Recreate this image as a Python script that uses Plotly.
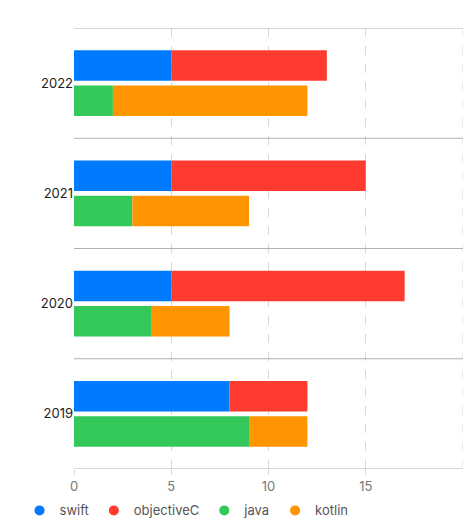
import plotly.graph_objects as go

years = ["2019", "2020", "2021", "2022"]
swift = [8, 5, 5, 5]
objectiveC = [4, 12, 10, 8]
java = [9, 4, 3, 2]
kotlin = [3, 4, 6, 10]

colors = {"swift": "#007AFF", "objectiveC": "#FF3B30", "java": "#34C759", "kotlin": "#FF9500"}

fig = go.Figure()
fig.add_bar(y=years, x=java, orientation="h", name="java", marker_color=colors["java"],
            offsetgroup="android", showlegend=False)
fig.add_bar(y=years, x=kotlin, base=java, orientation="h", name="kotlin", marker_color=colors["kotlin"],
            offsetgroup="android", showlegend=False)
fig.add_bar(y=years, x=swift, orientation="h", name="swift", marker_color=colors["swift"],
            offsetgroup="ios", showlegend=False)
fig.add_bar(y=years, x=objectiveC, base=swift, orientation="h", name="objectiveC", marker_color=colors["objectiveC"],
            offsetgroup="ios", showlegend=False)
for tr in fig.data:
    tr.marker.line.width = 0
    tr.hoverinfo = "x+name"
for n in ["swift", "objectiveC", "java", "kotlin"]:
    fig.add_scatter(x=[None], y=[None], mode="markers", name=n,
                    marker=dict(symbol="circle", size=10, color=colors[n]))

shapes = []
for i in range(len(years) + 1):
    shapes.append(dict(type="line", xref="paper", x0=0, x1=1, yref="y", y0=i - 0.5, y1=i - 0.5,
                       line=dict(color="#b0b0b0", width=1)))
shapes.append(dict(type="line", xref="x", x0=20, x1=20, yref="paper", y0=0, y1=1,
                   line=dict(color="#d8d8d8", width=1, dash="dash")))
fig.update_layout(
    width=474, height=529, barmode="group", bargap=0.36, bargroupgap=0.14,
    margin=dict(l=59, r=19, t=20, b=68),
    plot_bgcolor="white", paper_bgcolor="white",
    font=dict(family="Inter, Noto Sans, sans-serif", size=13, color="#222"),
    shapes=shapes,
    xaxis=dict(range=[0, 20], tickvals=[0, 5, 10, 15], showgrid=True, gridcolor="#d8d8d8",
               griddash="dash", zeroline=False, showline=False, ticks="outside", ticklen=5,
               tickcolor="#d8d8d8", tickfont=dict(color="#777", size=13), automargin=False),
    yaxis=dict(range=[-0.5, 3.5], showgrid=False, zeroline=False, ticks="",
               tickfont=dict(size=13, color="#222"), automargin=False),
    legend=dict(orientation="h", x=-0.14, y=-0.06, xanchor="left", yanchor="top",
                font=dict(size=13, color="#555"), traceorder="normal"),
)
fig.write_html("out.html")
